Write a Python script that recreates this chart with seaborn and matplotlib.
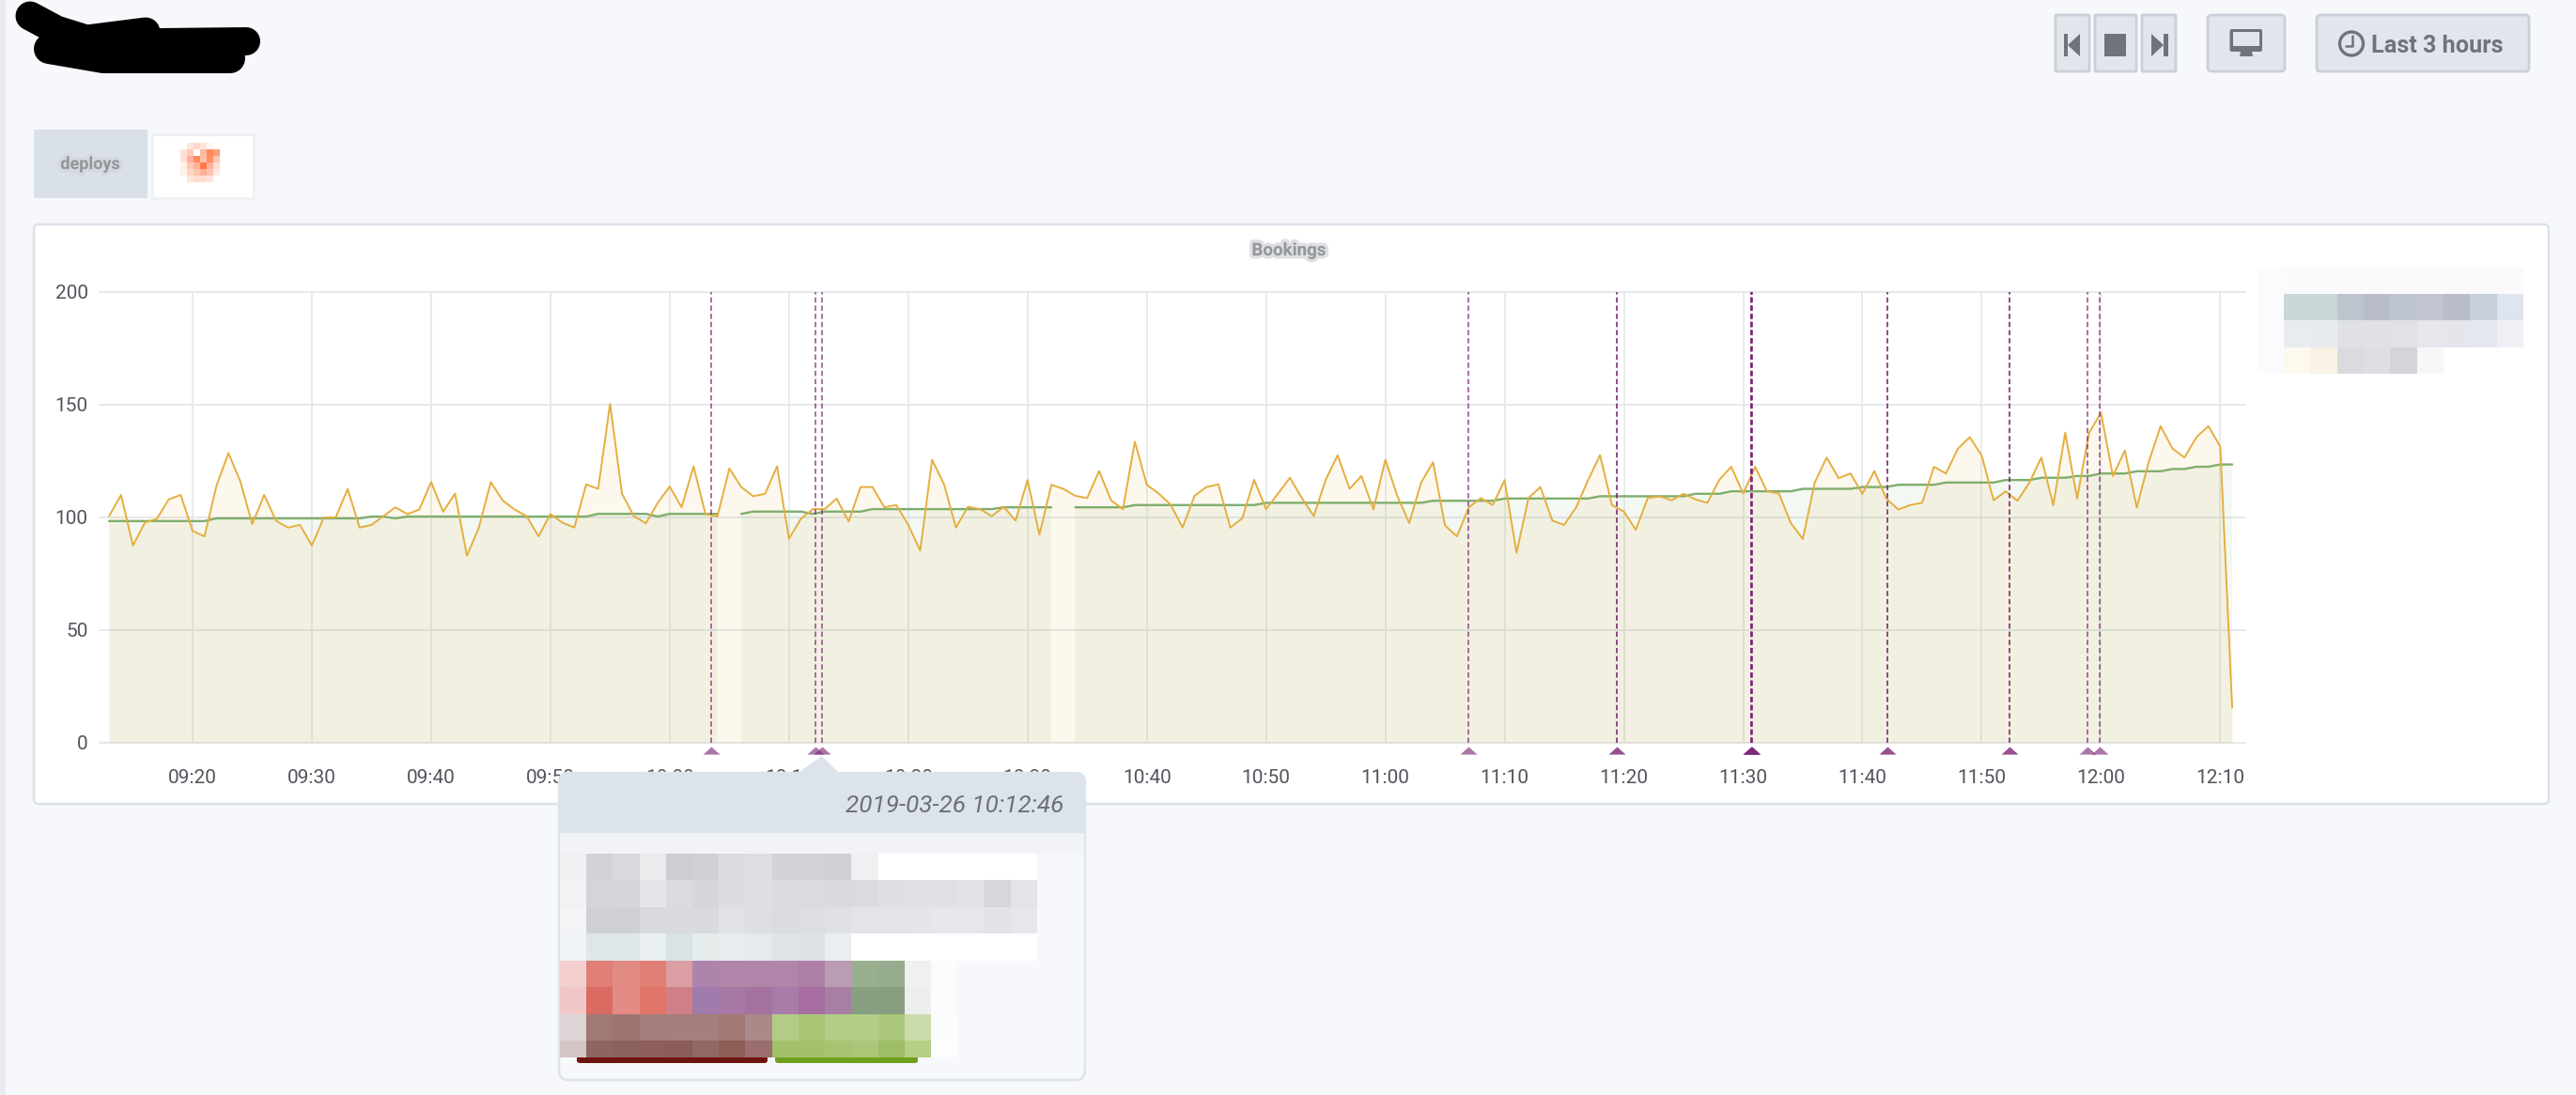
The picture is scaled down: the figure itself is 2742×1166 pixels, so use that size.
import numpy as np
import pandas as pd
import matplotlib
matplotlib.use("Agg")
import matplotlib.pyplot as plt
import matplotlib.dates as mdates
import matplotlib.patheffects as pe
from matplotlib.colors import to_rgb
from matplotlib.patches import FancyBboxPatch, Polygon, Circle, Rectangle
import seaborn as sns

W, H = 2742, 1166

# ── Data ─────────────────────────────────────────────────────────────────────
bookings = [
    100.6, 110, 87.5, 97.7, 99.4, 108, 110, 94, 91.6, 114,
    128.6, 116, 97, 110, 98.5, 95.5, 96.7, 87.5, 100, 100,
    112.7, 95.5, 96.7, 100.6, 104.5, 101.5, 103.5, 115.7, 102.5, 110.6,
    83, 95.5, 115.7, 107.5, 103.5, 100.6, 91.6, 101.5, 97.7, 95.5,
    114.7, 112.7, 150.4, 110.5, 100.6, 97.4, 106.5, 113.7, 104.5, 122.7,
    101.5, 100.4, 121.7, 113.5, 109.4, 110.5, 122.7, 90.6, 99.4, 103.7,
    103.7, 108.4, 98.2, 113.5, 113.5, 104.5, 105.5, 96.7, 85.3, 125.6,
    114.7, 95.5, 104.7, 103.7, 100.6, 104.7, 98.6, 116.6, 92.4, 114.5,
    112.7, 109.6, 108.6, 120.6, 107.6, 103.7, 133.6, 114.5, 110.6, 105.7,
    95.5, 109.6, 113.5, 114.7, 95.5, 99.6, 116.7, 103.7, 110.6, 117.6,
    108.6, 100.6, 116.7, 127.6, 112.7, 118.4, 103.5, 125.6, 109.6, 97.5,
    115.5, 124.5, 96.5, 91.6, 104.5, 108.6, 105.5, 116.6, 84.3, 108.6,
    113.5, 98.6, 96.7, 104.5, 116.6, 127.6, 105.5, 102.6, 94.5, 108.6,
    109.4, 107.6, 110.5, 108, 106.5, 116.7, 122.5, 110.6, 122.5, 111.6,
    110.6, 97.5, 90.4, 115.5, 126.6, 117.4, 119.5, 110.5, 120.6, 108.4,
    103.5, 105.5, 106.5, 122.5, 119.5, 130.5, 135.6, 127.4, 107.6, 111.6,
    107.4, 115.5, 126.6, 105.4, 137.6, 108.4, 137.5, 146.5, 118.4, 129.7,
    104.3, 124.6, 140.5, 130.5, 126.6, 135.6, 140.5, 131.5, 15.6,
]
baseline = (
    [98.4] * 9 + [99.6] * 13 + [100.4] * 2 + [99.6] + [100.4] * 16
    + [101.6] * 5 + [100.4] + [101.6] * 5 + [np.nan] + [101.6]
    + [102.6] * 5 + [101.6] + [102.6] * 4 + [103.7] * 11 + [104.5] * 5
    + [np.nan] + [104.5] * 5 + [105.5] * 11 + [106.5] * 14 + [107.4] * 6
    + [108.4] * 8 + [109.4] * 8 + [110.5] * 3 + [111.6] * 6 + [112.7] * 5
    + [113.5] * 3 + [114.5] * 4 + [115.5] * 5 + [116.6] * 3 + [117.6] * 3
    + [118.4] * 2 + [119.5] * 3 + [120.5] * 3 + [121.5] * 2 + [122.5] * 2
    + [123.5] * 2
)
times = pd.date_range("2019-03-26 09:13:00", periods=len(bookings), freq="min")

annotation_times = [
    "10:03:27", "10:12:11", "10:12:46", "11:06:59", "11:19:25",
    "11:30:38", "11:30:40", "11:30:43", "11:42:07", "11:52:20",
    "11:58:53", "11:59:54",
]
annotation_alpha = [0.75, 0.75, 0.75, 0.75, 0.95, 0.95, 0.95, 0.95, 0.95, 0.95, 0.75, 0.75]

y_ticks = [0, 50, 100, 150, 200]

# Pixelated (censored) blocks of the screenshot
legend_blocks = [
    ["#FAFAFD"] * 9,
    ["#CAD6D8", "#CBD6D8", "#BEC4CE", "#B8BDC8", "#BFC5CF", "#C0C5D0", "#B8BDC8", "#C7CFD8", "#DFE5EF"],
    ["#E9ECEF", "#E7EBED", "#DFE1E7", "#DFE1E7", "#E0E2E8", "#E5E7EC", "#E4E6EC", "#E4E7ED", "#EFF0F5"],
    ["#FEF9EE", "#F9F2E5", "#DBDADF", "#DFDEE2", "#D5D5D9", "#F7F7F8", "#FFFFFF", "#FFFFFF", "#FFFFFF"],
]
tooltip_blocks = [
    ["#F0F0F2", "#D2D3D6", "#D8D9DD", "#EBEBEE", "#CDCED1", "#CFD0D3", "#DBDCE0", "#DDDEE1", "#D2D3D7",
     "#D1D2D6", "#CFD0D4", "#F0F0F2", "#FFFFFF", "#FFFFFF", "#FFFFFF", "#FFFFFF", "#FFFFFF", "#FFFFFF"],
    ["#F2F2F5", "#D4D5D8", "#D5D6D9", "#E5E6E9", "#DADBDE", "#D5D6D9", "#DCDDE0", "#DEDFE2", "#DBDCDF",
     "#DADBDE", "#D9DADD", "#DADBDF", "#DEDFE2", "#E0E1E4", "#E0E1E4", "#E2E3E6", "#D6D7DA", "#E3E4E7"],
    ["#F4F4F6", "#CFD0D4", "#CFD0D4", "#D9DADD", "#D9DADD", "#D9DADD", "#E1E2E6", "#DDDEE1", "#DBDCE0",
     "#DDDEE1", "#DFE0E3", "#E3E4E7", "#E3E4E7", "#E4E5E8", "#E6E7EA", "#E6E7EA", "#E2E3E6", "#E6E7EA"],
    ["#EFF4F7", "#DEE6E9", "#DFE6E9", "#E9EFF2", "#D9E3E5", "#E6EBEC", "#E9EDEF", "#E5EAEC", "#DEE3E5",
     "#DDE2E4", "#EAEEF0", "#FFFFFF", "#FFFFFF", "#FFFFFF", "#FFFFFF", "#FFFFFF", "#FFFFFF", "#FFFFFF"],
    ["#F4CFCF", "#DF7F75", "#E28B84", "#E07F73", "#DA9EA3", "#AD84AC", "#B085AA", "#B085AA", "#B085AA",
     "#AD7FA7", "#BA9CB5", "#98AF90", "#95AC8E", "#EFF1EF", "#FAFBFD", "#F7F8FB", "#F7F8FB", "#F7F8FB"],
    ["#F2C7C7", "#D96B63", "#E38C85", "#E1756A", "#D07F87", "#A07BAB", "#A879A4", "#A5729F", "#A97BA8",
     "#A76DA1", "#A77FA3", "#889F82", "#879E81", "#EDEFED", "#FAFBFD", "#F7F8FB", "#F7F8FB", "#F7F8FB"],
    ["#DDD5D6", "#A17A75", "#9E7471", "#A27D79", "#A47F7B", "#A47F7B", "#A27974", "#AA8988", "#B2CC88",
     "#A9C677", "#B2CD87", "#B2CD87", "#ABC87A", "#CBDBA9", "#FBFCFE", "#F7F8FB", "#F7F8FB", "#F7F8FB"],
]
tooltip_last_row = [
    ["#D5C5C5", "#8E6560", "#8D615D", "#8C5F5B", "#8A5D5A", "#926764", "#8D5D58", "#9B6E6D", "#A3C16A",
     "#A3C16A", "#A7C472", "#ABC679", "#9FBF66", "#B5CF85", "#FCFDFF", "#F7F8FB", "#F7F8FB", "#F7F8FB"],
]
icon_blocks = [
    ["#FFFFFF", "#FFE5DC", "#FFD8CB", "#FFE5DC", "#FFF5F0", "#FFFFFF"],
    ["#FFE0D6", "#FFCBB8", "#FFFFFF", "#FFB8A0", "#FF8A5E", "#FF9E78"],
    ["#FFE0D6", "#FFB09A", "#FF8A60", "#FFC0A8", "#FF8E66", "#FFC8B4"],
    ["#FFF0EA", "#FFC8B4", "#FFB09A", "#FF7A48", "#FFB09A", "#FFE0D6"],
    ["#FFF0EA", "#FFD4C4", "#FFC4B0", "#FFB09A", "#FFC4B0", "#FFEBE4"],
    ["#FFFFFF", "#FFE4DA", "#FFDDD0", "#FFDDD0", "#FFE4DA", "#FFFFFF"],
]

YELLOW = "#E5AE3F"
GREEN = "#7FAE6C"
PURPLE = "#7D2777"
BG = "#F7F8FB"
TEXT = "#52545C"

sns.set_theme(style="whitegrid")
plt.rcParams.update({
    "font.family": ["Roboto", "DejaVu Sans"],
    "axes.facecolor": "none",
    "figure.facecolor": BG,
    "grid.color": "#E2E4E9",
})


def px_axes(fig, zorder):
    # full-figure overlay in screenshot pixels, y pointing down
    a = fig.add_axes([0, 0, 1, 1], zorder=zorder)
    a.set_xlim(0, W)
    a.set_ylim(H, 0)
    a.axis("off")
    a.autoscale(False)
    return a


def box(a, x0, y0, x1, y1, face, edge="none", r=5, lw=1.5):
    a.add_patch(FancyBboxPatch((x0, y0), x1 - x0, y1 - y0, boxstyle=f"round,pad=0,rounding_size={r}",
                               fc=face, ec=edge, lw=lw))


def blocks(a, rows, x0, y0, cell_w, cell_h):
    img = np.array([[to_rgb(c) for c in row] for row in rows])
    a.imshow(img, extent=(x0, x0 + cell_w * img.shape[1], y0 + cell_h * img.shape[0], y0),
             interpolation="nearest", aspect="auto", zorder=3)


def blurred(a, x, y, s, size):
    a.text(x, y, s, fontsize=size, color="#7F8188", ha="center", va="center", fontweight="bold", alpha=0.7,
           path_effects=[pe.withStroke(linewidth=5, foreground="#D5D7DB", alpha=0.8)], zorder=4)


fig = plt.figure(figsize=(W / 100, H / 100), dpi=100)
back = px_axes(fig, 0)
front = px_axes(fig, 5)

# ── Page chrome ──────────────────────────────────────────────────────────────
back.add_patch(Rectangle((0, 0), 6, H, fc="#E8EAF0", ec="none"))
for pts, width in [
    ([(32, 17), (60, 32), (92, 42), (155, 34)], 31),
    ([(52, 52), (110, 62), (150, 62), (245, 62)], 32),
    ([(170, 45), (262, 44)], 30),
]:
    back.plot(*zip(*pts), color="black", lw=width * 0.72, solid_capstyle="round", solid_joinstyle="round")

# tabs
back.add_patch(Rectangle((36, 138), 121, 73, fc="#D9E0E8", ec="none"))
back.add_patch(Rectangle((162, 143), 108, 68, fc="white", ec="#F0F1F5", lw=2))
blurred(back, 96, 175, "deploys", 13)
blocks(back, icon_blocks, 192, 152, 7, 7)

# top right buttons
for x0, x1, r in [(2188, 2224, 1), (2230, 2274, 1), (2280, 2316, 1), (2350, 2432, 4), (2466, 2692, 4)]:
    box(back, x0, 16, x1, 76, "#E2E6EC", "#C9D0D9", r=r, lw=2)
ICON = "#6F737C"
back.add_patch(Rectangle((2197, 36), 4, 24, fc=ICON, ec="none"))
back.add_patch(Polygon([(2201, 48), (2214, 36), (2214, 60)], fc=ICON, ec="none"))
back.add_patch(Rectangle((2239.5, 36), 23.5, 24, fc=ICON, ec="none"))
back.add_patch(Polygon([(2290, 36), (2303, 48), (2290, 60)], fc=ICON, ec="none"))
back.add_patch(Rectangle((2303, 36), 4.5, 24, fc=ICON, ec="none"))
box(back, 2373.5, 31, 2408, 55, ICON, r=2)
back.add_patch(Rectangle((2376.5, 34), 28, 15, fc="#E2E6EC", ec="none"))
back.add_patch(Polygon([(2385, 55), (2397, 55), (2398, 60), (2384, 60)], fc=ICON, ec="none"))
back.add_patch(Circle((2503, 46.5), 12.5, fc="none", ec=ICON, lw=2.4))
back.plot([2504, 2504, 2497], [38, 49, 49], color=ICON, lw=1.8)
back.text(2524, 49, "Last 3 hours", fontsize=18.2, fontweight="bold", color=ICON, ha="left", va="center")

# ── Panel ────────────────────────────────────────────────────────────────────
box(back, 36, 239, 2713, 856, "white", "#DCE2EA", r=5, lw=1.8)
blurred(back, 1372, 267, "Bookings", 13.5)
blocks(back, [["#FBFBFD"]] * 4, 2403, 285, 28, 28.2)
blocks(back, legend_blocks, 2431, 285, 28.3, 28.2)

# ── Chart ────────────────────────────────────────────────────────────────────
ax = fig.add_axes([106 / W, 1 - 791 / H, (2390 - 106) / W, (791 - 311) / H], zorder=1)

ax.fill_between(times, bookings, color="#EAB839", alpha=0.09, lw=0)
ax.fill_between(times, baseline, color="#7EB26D", alpha=0.085, lw=0)

base_series = pd.Series(baseline, index=times)
segments = base_series.isna().cumsum()
for seg in segments.unique():
    part = base_series[segments == seg].dropna()
    sns.lineplot(x=part.index, y=part.values, color=GREEN, lw=1.7, ax=ax, estimator=None)
sns.lineplot(x=times, y=bookings, color=YELLOW, lw=1.4, ax=ax, estimator=None)

marker = [(-1, -0.45), (1, -0.45), (0, 0.45)]
trans = ax.get_xaxis_transform()
for t, al in zip(annotation_times, annotation_alpha):
    when = pd.Timestamp(f"2019-03-26 {t}")
    ax.axvline(when, color=PURPLE, lw=1.25, ls=(0, (3.2, 1.8)), alpha=al, zorder=4)
    ax.plot([when], [-0.0165], transform=trans, marker=marker, ms=13, color=PURPLE, alpha=al * 0.85,
            mew=0, clip_on=False, zorder=4)

ax.set_xlim(pd.Timestamp("2019-03-26 09:12:12"), pd.Timestamp("2019-03-26 12:12:06"))
ax.set_ylim(0, 200)
ax.set_yticks(y_ticks)
ax.xaxis.set_major_locator(mdates.MinuteLocator(byminute=range(0, 60, 10)))
ax.xaxis.set_major_formatter(mdates.DateFormatter("%H:%M"))
ax.set(xlabel=None, ylabel=None)
ax.tick_params(axis="x", length=0, pad=20.5, labelsize=15, labelcolor=TEXT)
ax.tick_params(axis="y", length=0, pad=9, labelsize=15, labelcolor=TEXT)
sns.despine(ax=ax, left=True, bottom=True)
ax.set_axisbelow(True)
ax.grid(True, axis="x", lw=1.1)
ax.grid(True, axis="y", lw=1.5, color="#E7E8EC")
for line in ax.get_ygridlines():
    line.set_clip_on(False)

# ── Tooltip ──────────────────────────────────────────────────────────────────
box(front, 595, 823, 1155, 1150, BG, "#DFE4EB", r=10, lw=1.8)
box(front, 595, 823, 1155, 900, "#DCE3EB", r=10)
front.add_patch(Rectangle((596, 870), 558, 17, fc="#DCE3EB", ec="none"))
front.add_patch(Rectangle((596, 887), 558, 23, fc="#F1F3F7", ec="none"))
front.add_patch(Polygon([(848, 824), (875, 805), (894, 824)], fc="#DCE3EB", ec="none"))
front.text(1132, 858, "2019-03-26 10:12:46", fontsize=18.8, style="italic", color="#6E7078", ha="right", va="center")
blocks(front, tooltip_blocks, 596, 910, 28.2, 28.3)
box(front, 614, 1124, 817, 1132, "#6E1410", r=3)
box(front, 825, 1124, 977, 1132, "#6FA01C", r=3)
blocks(front, tooltip_last_row, 596, 1108, 28.2, 18)

fig.savefig("out.png", dpi=100, facecolor=BG)
